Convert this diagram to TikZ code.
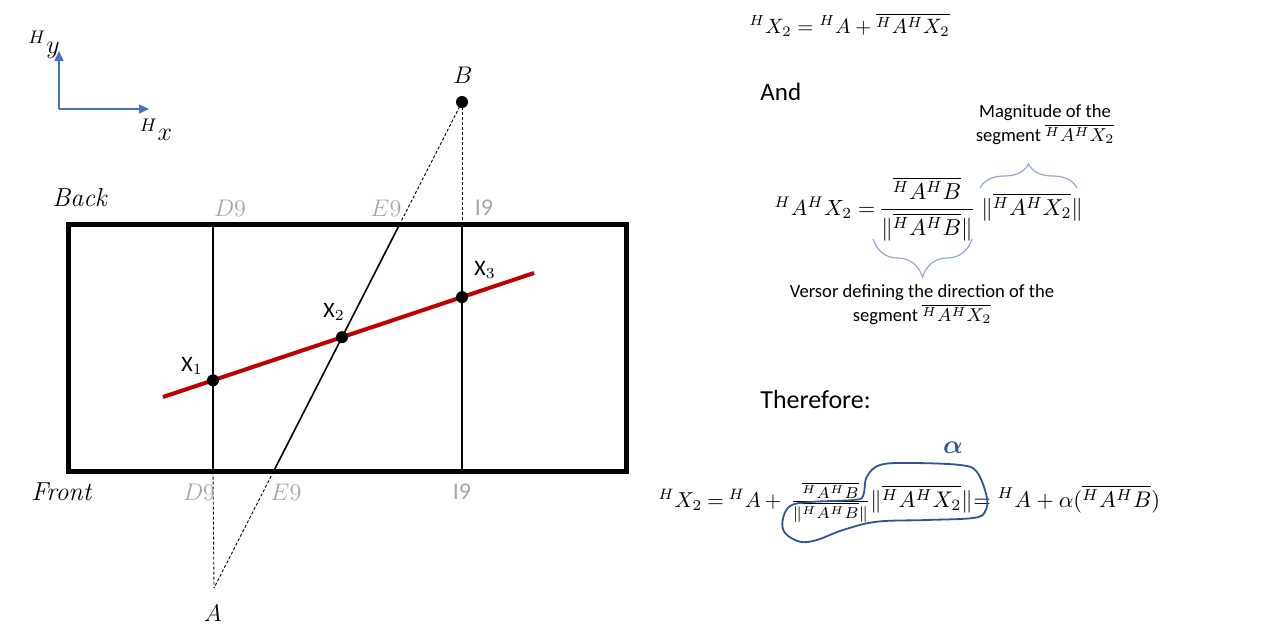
\RequirePackage{fix-cm}
\documentclass[tikz,border=0pt]{standalone}
\usepackage{amsmath}
\usepackage{fontspec}
\setsansfont{Carlito}
\usetikzlibrary{decorations.pathreplacing,arrows.meta}
\definecolor{axblue}{RGB}{68,114,196}
\definecolor{brblue}{RGB}{143,170,220}
\definecolor{blobblue}{RGB}{47,84,150}
\definecolor{lgrey}{RGB}{166,166,166}
\definecolor{lred}{RGB}{192,0,0}
\tikzset{
  frame/.style={line width=2.5pt},
  guide/.style={line width=0.8pt},
  hidden/.style={line width=0.45pt, dash pattern=on 1.5pt off 1pt},
  redseg/.style={line width=2pt, draw=lred},
  ptdot/.style={circle, fill=black, inner sep=0pt, minimum size=6pt},
  gridlbl/.style={text=lgrey, inner sep=0pt, font=\fontsize{12}{14}\selectfont},
  sidelbl/.style={inner sep=0pt, font=\fontsize{13}{15}\selectfont\itshape},
  xlbl/.style={inner sep=0pt, font=\fontsize{11}{13}\selectfont\sffamily},
  axis/.style={draw=axblue, line width=0.75pt, -{Triangle[length=5pt,width=4.5pt]}},
  brc/.style={draw=brblue, line width=0.6pt, decorate},
  sans/.style={inner sep=0pt, font=\fontsize{12.5}{15}\selectfont\sffamily},
  small/.style={inner sep=0pt, align=center, font=\fontsize{9.3}{12}\selectfont\sffamily},
  eqn/.style={inner sep=0pt, anchor=base west},
  eqA/.style={eqn, font=\fontsize{10.4}{13}\selectfont},
  eqB/.style={eqn, font=\fontsize{11.5}{13}\selectfont},
  eqC/.style={eqn, font=\fontsize{11.3}{13}\selectfont},
}
\begin{document}
\begin{tikzpicture}[x=0.5pt,y=-0.5pt]
\useasboundingbox (0,0) rectangle (1268,634);
% coordinates
\coordinate (A) at (214,588);
\coordinate (B) at (462,102);
\coordinate (R1) at (163,397);
\coordinate (R2) at (534,273);
\coordinate (D9t) at (213,224);
\coordinate (D9b) at (213,471.5);
\coordinate (I9t) at (462,224);
\coordinate (I9b) at (462,471.5);
\coordinate (E9t) at (intersection of A--B and 0,224--1000,224);
\coordinate (E9b) at (intersection of A--B and 0,471.5--1000,471.5);
\coordinate (X1c) at (intersection of D9t--D9b and R1--R2);
\coordinate (X2c) at (intersection of A--B and R1--R2);
\coordinate (X3c) at (intersection of I9t--I9b and R1--R2);
% axes
\coordinate (O) at (59,109);
\coordinate (Ytip) at (59,51);
\coordinate (Xtip) at (149,109);
\draw[axis] (O) -- (Ytip);
\draw[axis] (O) -- (Xtip);
\node (hy) at (44,45) {\fontsize{13}{15}\selectfont$^{H}y$};
\node (hx) at (156,130) {\fontsize{13}{15}\selectfont$^{H}x$};
% frame
\draw[frame] (68.5,224) rectangle (626,471.5);
% guide lines
\draw[guide] (D9t) -- (D9b);
\draw[guide] (I9t) -- (I9b);
\draw[guide] (E9t) -- (E9b);
\draw[hidden] (B) -- (E9t);
\draw[hidden] (B) -- (I9t);
\draw[hidden] (D9b) -- (A);
\draw[hidden] (E9b) -- (A);
% red line
\draw[redseg] (R1) -- (R2);
% dots
\node[ptdot] (Bdot) at (B) {};
\node[ptdot] (X1) at (X1c) {};
\node[ptdot] (X2) at (X2c) {};
\node[ptdot] (X3) at (X3c) {};
% labels
\node (lA) at (213,613) {\fontsize{12}{14}\selectfont$A$};
\node (lB) at (463,75) {\fontsize{12}{14}\selectfont$B$};
\node[sidelbl, anchor=west] (back) at (52,198) {Back};
\node[sidelbl, anchor=west] (front) at (31,492) {Front};
\node[gridlbl] (d9t) at (230,208) {$D9$};
\node[gridlbl] (e9t) at (386,208) {$E9$};
\node[gridlbl, font=\fontsize{12}{14}\selectfont\sffamily] (i9t) at (484,208) {I9};
\node[gridlbl] (d9b) at (199,492) {$D9$};
\node[gridlbl] (e9b) at (286,492) {$E9$};
\node[gridlbl, font=\fontsize{12}{14}\selectfont\sffamily] (i9b) at (462,492) {I9};
\node[xlbl] (lx1) at (192,366) {X$_1$};
\node[xlbl] (lx2) at (334,312) {X$_2$};
\node[xlbl] (lx3) at (485,270) {X$_3$};
% right side: first equation
\node[eqA] (f1) at (749,33) {${}^{H}X_2 = {}^{H}A + \overline{{}^{H}A^{H}X_2}$};
\node[sans, anchor=base west] (and) at (760,100) {And};
% second equation
\node[eqB, font=\fontsize{11}{13}\selectfont] (f2a) at (774,215) {${}^{H}A^{H}X_2 =$};
\node[eqB, anchor=base] (f2b) at (927,215) {$\dfrac{\overline{{}^{H}A^{H}B}}{\lVert\overline{{}^{H}A^{H}B}\rVert}$};
\node[eqB] (f2c) at (981,215) {$\lVert\overline{{}^{H}A^{H}X_2}\rVert$};
\draw[brc, decoration={brace, amplitude=12pt}] (980,188) -- (1077,188);
\draw[brc, decoration={brace, amplitude=19pt}] (972,239) -- (873,239);
\node[small] (mag) at (1045,125) {Magnitude of the\\segment $\overline{{}^{H}A^{H}X_2}$};
\node[small] (ver) at (922,305) {Versor defining the direction of the\\segment $\overline{{}^{H}A^{H}X_2}$};
% third equation
\node[sans, anchor=base west, font=\fontsize{13}{15}\selectfont\sffamily] (there) at (760,408) {Therefore:};
\node[eqC, font=\fontsize{10.8}{13}\selectfont] (f3a) at (658,507) {$\thickmuskip=4mu {}^{H}X_2 = {}^{H}A\mskip3mu +$};
\node[eqC] (f3b) at (790,507) {$\tfrac{\overline{{}^{H}A^{H}B}}{\lVert\overline{{}^{H}A^{H}B}\rVert}$};
\node[eqC] (f3c) at (870,507) {$\lVert\overline{{}^{H}A^{H}X_2}\rVert$};
\node[eqC] (f3d) at (973,507) {$={}^{H}A + \alpha(\overline{{}^{H}A^{H}B})$};
\draw[blobblue, line width=0.9pt] plot[smooth cycle, tension=0.6] coordinates {
  (782.7,520) (790,506) (810,502) (853,500) (863,496) (866.7,477) (880,465)
  (910,463) (960,465) (976.7,471.7) (986.7,496.7) (985,511.7) (973,518)
  (926.7,520) (876.7,521.7) (843,530) (816.7,540) (800,541.7) (785,533)};
\node[text=blobblue] (alpha) at (953,448) {\fontsize{13}{15}\selectfont$\boldsymbol{\alpha}$};
\end{tikzpicture}
\end{document}
